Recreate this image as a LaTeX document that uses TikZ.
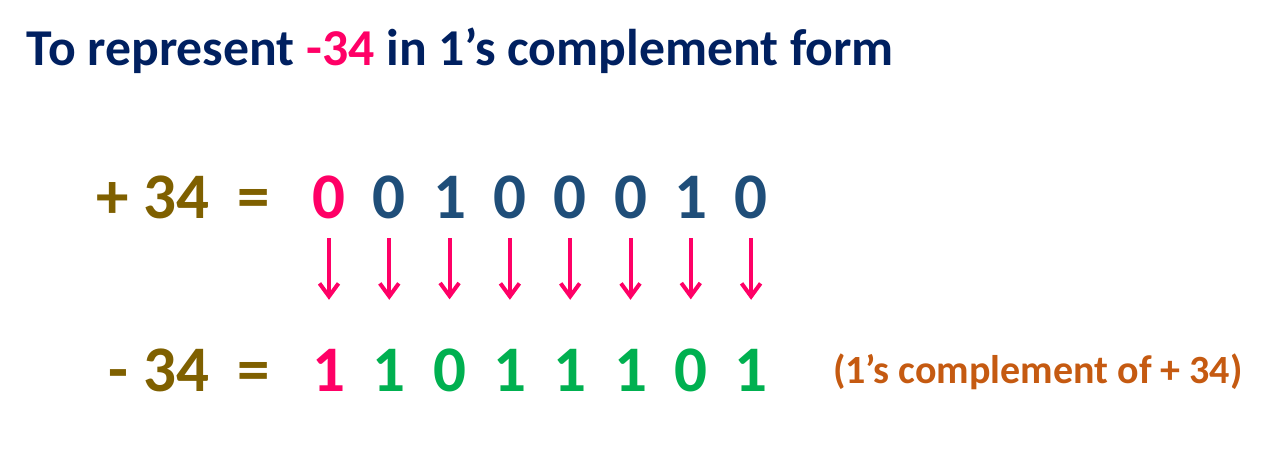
\documentclass[tikz,border=0pt]{standalone}
\usepackage{fontspec}
\setmainfont{Carlito}
\usetikzlibrary{arrows.meta}
\definecolor{navy}{HTML}{002060}
\definecolor{hot}{HTML}{FF0066}
\definecolor{dblue}{HTML}{1F4E79}
\definecolor{olive}{HTML}{7F6000}
\definecolor{grn}{HTML}{00B050}
\definecolor{orng}{HTML}{C55A11}
\tikzset{
  txt/.style={inner sep=0pt, outer sep=0pt, font=\bfseries},
  big/.style={txt, font=\fontsize{65}{65}\selectfont\bfseries, anchor=base},
  arr/.style={draw=hot, line width=4pt, -{Straight Barb[length=13pt,width=19pt,line width=4pt]}, shorten <=20pt, shorten >=49pt}
}
\begin{document}
\begin{tikzpicture}[x=1pt,y=-1pt]
\useasboundingbox (0,0) rectangle (1270,466);
\node[txt, anchor=base west, font=\fontsize{51.7}{52}\selectfont\bfseries, text=navy] (title) at (27,65)
  {To represent \textcolor{hot}{-34} in 1’s complement form};
\node[big, anchor=base east, text=olive] (p34) at (209,218) {+ 34};
\node[big, text=olive] (peq) at (254,218) {=};
\node[big, anchor=base east, text=olive] (m34) at (209,391) {- 34};
\node[big, text=olive] (meq) at (254,391) {=};
\foreach \d [count=\i from 0] in {0,0,1,0,0,0,1,0} {
  \pgfmathsetmacro{\xx}{329+60.3*\i}
  \ifnum\i=0 \def\cc{hot}\else\def\cc{dblue}\fi
  \node[big, text=\cc] (a\i) at (\xx,218) {\d};
}
\foreach \d [count=\i from 0] in {1,1,0,1,1,1,0,1} {
  \pgfmathsetmacro{\xx}{329+60.3*\i}
  \ifnum\i=0 \def\cc{hot}\else\def\cc{grn}\fi
  \node[big, text=\cc] (b\i) at (\xx,391) {\d};
}
\foreach \i in {0,...,7} {
  \draw[arr] (a\i.south) -- (b\i.north);
}
\node[txt, anchor=base west, font=\fontsize{40}{40}\selectfont\bfseries, text=orng] (note) at (833,383) {(1’s complement of + 34)};
\end{tikzpicture}
\end{document}
